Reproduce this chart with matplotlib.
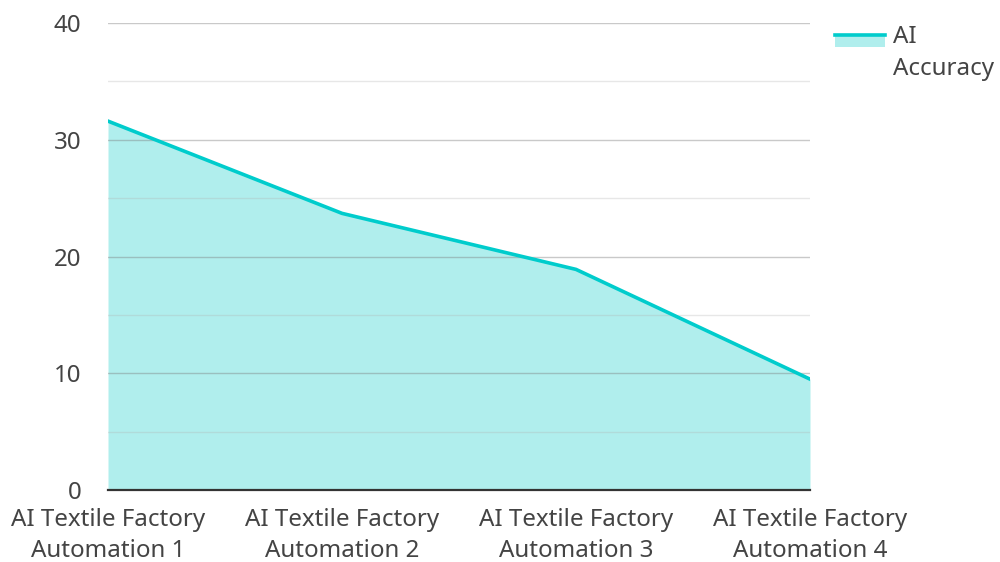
import matplotlib
matplotlib.use('Agg')
import matplotlib.pyplot as plt
from matplotlib.patches import Rectangle
from matplotlib.lines import Line2D

plt.rcParams['font.family'] = ['Noto Sans', 'DejaVu Sans']

# data
categories = ['AI Textile Factory\nAutomation 1', 'AI Textile Factory\nAutomation 2',
              'AI Textile Factory\nAutomation 3', 'AI Textile Factory\nAutomation 4']
accuracy = [31.6, 23.7, 18.9, 9.5]
series_name = 'AI\nAccuracy'

line_color = '#00cccc'
fill_color = '#b0eeed'
text_color = '#444444'
fs = 17.4

fig = plt.figure(figsize=(10, 5.62), dpi=100)
ax = fig.add_axes([0.108, 0.128, 0.702, 0.831])

x = list(range(len(categories)))
ax.fill_between(x, accuracy, 0, color=fill_color, lw=0, zorder=1)
ax.plot(x, accuracy, color=line_color, lw=2.6, zorder=3, solid_joinstyle='round')

ax.set_xlim(0, len(categories) - 1)
ax.set_ylim(0, 40)
ax.set_yticks([0, 10, 20, 30, 40])
ax.set_xticks(x)
ax.set_xticklabels(categories, linespacing=1.4)

# grid lines drawn over the fill
for v in [10, 20, 30, 40]:
    ax.axhline(v, color='#7a7a7a', lw=1, alpha=0.4, zorder=2)
for v in [5, 15, 25, 35]:
    ax.axhline(v, color='#b0b0b0', lw=1, alpha=0.3, zorder=2)
ax.axhline(0, color='#333333', lw=1.6, zorder=4, clip_on=False)

for s in ax.spines.values():
    s.set_visible(False)
ax.tick_params(axis='both', which='both', length=0, colors=text_color, labelsize=fs)
ax.tick_params(axis='y', pad=19)
ax.tick_params(axis='x', pad=13)

# legend
fig.patches.append(Rectangle((0.835, 1 - 47 / 562), 0.05, 11 / 562,
                             transform=fig.transFigure, color=fill_color, lw=0))
fig.lines.append(Line2D([0.835, 0.885], [1 - 35 / 562, 1 - 35 / 562],
                        transform=fig.transFigure, color=line_color, lw=2.6))
fig.text(0.893, 1 - 25 / 562, series_name, fontsize=fs, color=text_color,
         va='top', ha='left', linespacing=1.45)

fig.savefig('out.png', dpi=100)
